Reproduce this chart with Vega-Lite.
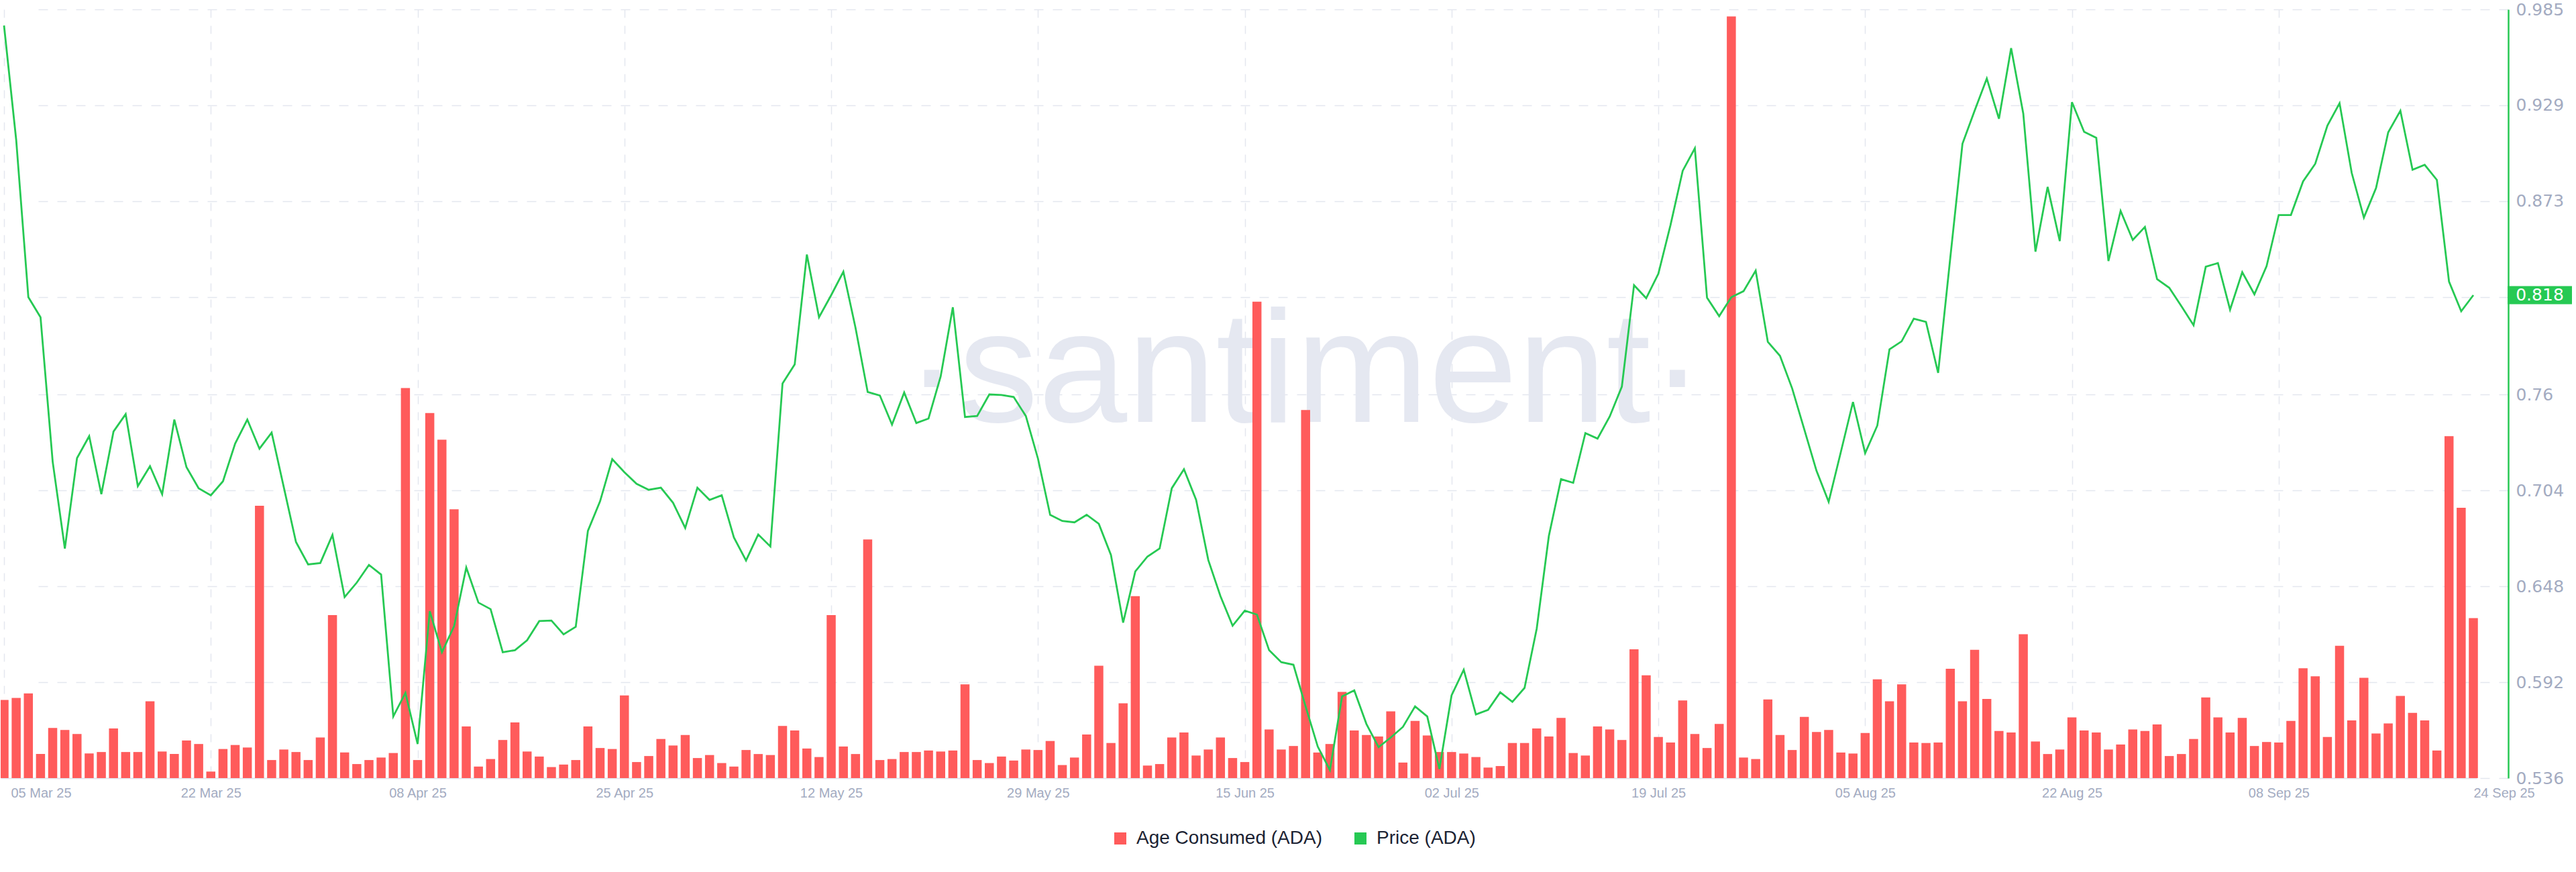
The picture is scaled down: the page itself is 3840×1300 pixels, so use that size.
{
 "$schema": "https://vega.github.io/schema/vega-lite/v6.json",
 "width": 3738,
 "height": 1146,
 "padding": {"left": 0, "top": 2, "right": 0, "bottom": 0},
 "background": "#ffffff",
 "config": {"view": {"stroke": null}, "font": "Liberation Sans"},
 "data": {"values": [
{"date":"2025-03-05","age_consumed":156,"price":0.9756},
{"date":"2025-03-06","age_consumed":160,"price":0.9088},
{"date":"2025-03-07","age_consumed":169,"price":0.8169},
{"date":"2025-03-08","age_consumed":48,"price":0.8052},
{"date":"2025-03-09","age_consumed":100,"price":0.7208},
{"date":"2025-03-10","age_consumed":96,"price":0.6701},
{"date":"2025-03-11","age_consumed":88,"price":0.7229},
{"date":"2025-03-12","age_consumed":49,"price":0.7357},
{"date":"2025-03-13","age_consumed":52,"price":0.7018},
{"date":"2025-03-14","age_consumed":99,"price":0.7384},
{"date":"2025-03-15","age_consumed":52,"price":0.7486},
{"date":"2025-03-16","age_consumed":52,"price":0.7065},
{"date":"2025-03-17","age_consumed":153,"price":0.7182},
{"date":"2025-03-18","age_consumed":53,"price":0.7018},
{"date":"2025-03-19","age_consumed":48,"price":0.7454},
{"date":"2025-03-20","age_consumed":75,"price":0.7176},
{"date":"2025-03-21","age_consumed":68,"price":0.7053},
{"date":"2025-03-22","age_consumed":13,"price":0.7012},
{"date":"2025-03-23","age_consumed":58,"price":0.7094},
{"date":"2025-03-24","age_consumed":66,"price":0.7314},
{"date":"2025-03-25","age_consumed":61,"price":0.7454},
{"date":"2025-03-26","age_consumed":543,"price":0.7284},
{"date":"2025-03-27","age_consumed":36,"price":0.7378},
{"date":"2025-03-28","age_consumed":57,"price":0.7059},
{"date":"2025-03-29","age_consumed":52,"price":0.6739},
{"date":"2025-03-30","age_consumed":36,"price":0.6608},
{"date":"2025-03-31","age_consumed":81,"price":0.6616},
{"date":"2025-04-01","age_consumed":325,"price":0.6780},
{"date":"2025-04-02","age_consumed":51,"price":0.6417},
{"date":"2025-04-03","age_consumed":28,"price":0.6502},
{"date":"2025-04-04","age_consumed":36,"price":0.6605},
{"date":"2025-04-05","age_consumed":41,"price":0.6549},
{"date":"2025-04-06","age_consumed":50,"price":0.5720},
{"date":"2025-04-07","age_consumed":778,"price":0.5858},
{"date":"2025-04-08","age_consumed":36,"price":0.5559},
{"date":"2025-04-09","age_consumed":728,"price":0.6335},
{"date":"2025-04-10","age_consumed":675,"price":0.6095},
{"date":"2025-04-11","age_consumed":536,"price":0.6247},
{"date":"2025-04-12","age_consumed":103,"price":0.6590},
{"date":"2025-04-13","age_consumed":23,"price":0.6385},
{"date":"2025-04-14","age_consumed":38,"price":0.6347},
{"date":"2025-04-15","age_consumed":76,"price":0.6095},
{"date":"2025-04-16","age_consumed":111,"price":0.6107},
{"date":"2025-04-17","age_consumed":53,"price":0.6165},
{"date":"2025-04-18","age_consumed":43,"price":0.6277},
{"date":"2025-04-19","age_consumed":22,"price":0.6280},
{"date":"2025-04-20","age_consumed":27,"price":0.6200},
{"date":"2025-04-21","age_consumed":36,"price":0.6244},
{"date":"2025-04-22","age_consumed":103,"price":0.6804},
{"date":"2025-04-23","age_consumed":60,"price":0.6977},
{"date":"2025-04-24","age_consumed":58,"price":0.7223},
{"date":"2025-04-25","age_consumed":165,"price":0.7147},
{"date":"2025-04-26","age_consumed":32,"price":0.7079},
{"date":"2025-04-27","age_consumed":44,"price":0.7044},
{"date":"2025-04-28","age_consumed":78,"price":0.7056},
{"date":"2025-04-29","age_consumed":65,"price":0.6968},
{"date":"2025-04-30","age_consumed":86,"price":0.6821},
{"date":"2025-05-01","age_consumed":40,"price":0.7056},
{"date":"2025-05-02","age_consumed":46,"price":0.6985},
{"date":"2025-05-03","age_consumed":30,"price":0.7012},
{"date":"2025-05-04","age_consumed":23,"price":0.6766},
{"date":"2025-05-05","age_consumed":56,"price":0.6631},
{"date":"2025-05-06","age_consumed":48,"price":0.6783},
{"date":"2025-05-07","age_consumed":46,"price":0.6713},
{"date":"2025-05-08","age_consumed":104,"price":0.7665},
{"date":"2025-05-09","age_consumed":95,"price":0.7776},
{"date":"2025-05-10","age_consumed":59,"price":0.8418},
{"date":"2025-05-11","age_consumed":42,"price":0.8052},
{"date":"2025-05-12","age_consumed":325,"price":0.8181},
{"date":"2025-05-13","age_consumed":63,"price":0.8318},
{"date":"2025-05-14","age_consumed":48,"price":0.7990},
{"date":"2025-05-15","age_consumed":476,"price":0.7615},
{"date":"2025-05-16","age_consumed":36,"price":0.7595},
{"date":"2025-05-17","age_consumed":38,"price":0.7425},
{"date":"2025-05-18","age_consumed":52,"price":0.7612},
{"date":"2025-05-19","age_consumed":52,"price":0.7434},
{"date":"2025-05-20","age_consumed":55,"price":0.7460},
{"date":"2025-05-21","age_consumed":53,"price":0.7706},
{"date":"2025-05-22","age_consumed":55,"price":0.8110},
{"date":"2025-05-23","age_consumed":187,"price":0.7469},
{"date":"2025-05-24","age_consumed":36,"price":0.7475},
{"date":"2025-05-25","age_consumed":30,"price":0.7601},
{"date":"2025-05-26","age_consumed":43,"price":0.7598},
{"date":"2025-05-27","age_consumed":35,"price":0.7586},
{"date":"2025-05-28","age_consumed":57,"price":0.7475},
{"date":"2025-05-29","age_consumed":56,"price":0.7226},
{"date":"2025-05-30","age_consumed":74,"price":0.6898},
{"date":"2025-05-31","age_consumed":26,"price":0.6862},
{"date":"2025-06-01","age_consumed":41,"price":0.6854},
{"date":"2025-06-02","age_consumed":87,"price":0.6898},
{"date":"2025-06-03","age_consumed":224,"price":0.6845},
{"date":"2025-06-04","age_consumed":70,"price":0.6663},
{"date":"2025-06-05","age_consumed":149,"price":0.6268},
{"date":"2025-06-06","age_consumed":363,"price":0.6567},
{"date":"2025-06-07","age_consumed":25,"price":0.6654},
{"date":"2025-06-08","age_consumed":28,"price":0.6701},
{"date":"2025-06-09","age_consumed":81,"price":0.7053},
{"date":"2025-06-10","age_consumed":91,"price":0.7164},
{"date":"2025-06-11","age_consumed":45,"price":0.6985},
{"date":"2025-06-12","age_consumed":57,"price":0.6634},
{"date":"2025-06-13","age_consumed":81,"price":0.6423},
{"date":"2025-06-14","age_consumed":40,"price":0.6250},
{"date":"2025-06-15","age_consumed":32,"price":0.6338},
{"date":"2025-06-16","age_consumed":950,"price":0.6315},
{"date":"2025-06-17","age_consumed":97,"price":0.6107},
{"date":"2025-06-18","age_consumed":57,"price":0.6037},
{"date":"2025-06-19","age_consumed":64,"price":0.6022},
{"date":"2025-06-20","age_consumed":734,"price":0.5779},
{"date":"2025-06-21","age_consumed":51,"price":0.5544},
{"date":"2025-06-22","age_consumed":68,"price":0.5407},
{"date":"2025-06-23","age_consumed":172,"price":0.5837},
{"date":"2025-06-24","age_consumed":95,"price":0.5872},
{"date":"2025-06-25","age_consumed":86,"price":0.5676},
{"date":"2025-06-26","age_consumed":83,"price":0.5541},
{"date":"2025-06-27","age_consumed":133,"price":0.5597},
{"date":"2025-06-28","age_consumed":31,"price":0.5659},
{"date":"2025-06-29","age_consumed":114,"price":0.5779},
{"date":"2025-06-30","age_consumed":85,"price":0.5720},
{"date":"2025-07-01","age_consumed":52,"price":0.5413},
{"date":"2025-07-02","age_consumed":52,"price":0.5843},
{"date":"2025-07-03","age_consumed":49,"price":0.5993},
{"date":"2025-07-04","age_consumed":42,"price":0.5732},
{"date":"2025-07-05","age_consumed":21,"price":0.5758},
{"date":"2025-07-06","age_consumed":24,"price":0.5861},
{"date":"2025-07-07","age_consumed":70,"price":0.5805},
{"date":"2025-07-08","age_consumed":70,"price":0.5887},
{"date":"2025-07-09","age_consumed":99,"price":0.6233},
{"date":"2025-07-10","age_consumed":83,"price":0.6775},
{"date":"2025-07-11","age_consumed":120,"price":0.7106},
{"date":"2025-07-12","age_consumed":50,"price":0.7085},
{"date":"2025-07-13","age_consumed":45,"price":0.7375},
{"date":"2025-07-14","age_consumed":103,"price":0.7343},
{"date":"2025-07-15","age_consumed":97,"price":0.7472},
{"date":"2025-07-16","age_consumed":76,"price":0.7647},
{"date":"2025-07-17","age_consumed":257,"price":0.8239},
{"date":"2025-07-18","age_consumed":205,"price":0.8163},
{"date":"2025-07-19","age_consumed":82,"price":0.8306},
{"date":"2025-07-20","age_consumed":71,"price":0.8591},
{"date":"2025-07-21","age_consumed":155,"price":0.8907},
{"date":"2025-07-22","age_consumed":88,"price":0.9039},
{"date":"2025-07-23","age_consumed":60,"price":0.8166},
{"date":"2025-07-24","age_consumed":108,"price":0.8058},
{"date":"2025-07-25","age_consumed":1519,"price":0.8169},
{"date":"2025-07-26","age_consumed":41,"price":0.8204},
{"date":"2025-07-27","age_consumed":38,"price":0.8324},
{"date":"2025-07-28","age_consumed":157,"price":0.7908},
{"date":"2025-07-29","age_consumed":86,"price":0.7826},
{"date":"2025-07-30","age_consumed":56,"price":0.7636},
{"date":"2025-07-31","age_consumed":122,"price":0.7396},
{"date":"2025-08-01","age_consumed":92,"price":0.7155},
{"date":"2025-08-02","age_consumed":96,"price":0.6974},
{"date":"2025-08-03","age_consumed":51,"price":0.7264},
{"date":"2025-08-04","age_consumed":49,"price":0.7557},
{"date":"2025-08-05","age_consumed":90,"price":0.7258},
{"date":"2025-08-06","age_consumed":197,"price":0.7419},
{"date":"2025-08-07","age_consumed":153,"price":0.7864},
{"date":"2025-08-08","age_consumed":187,"price":0.7911},
{"date":"2025-08-09","age_consumed":71,"price":0.8043},
{"date":"2025-08-10","age_consumed":70,"price":0.8025},
{"date":"2025-08-11","age_consumed":71,"price":0.7727},
{"date":"2025-08-12","age_consumed":218,"price":0.8400},
{"date":"2025-08-13","age_consumed":153,"price":0.9065},
{"date":"2025-08-14","age_consumed":256,"price":0.9258},
{"date":"2025-08-15","age_consumed":158,"price":0.9446},
{"date":"2025-08-16","age_consumed":94,"price":0.9211},
{"date":"2025-08-17","age_consumed":91,"price":0.9624},
{"date":"2025-08-18","age_consumed":287,"price":0.9241},
{"date":"2025-08-19","age_consumed":73,"price":0.8435},
{"date":"2025-08-20","age_consumed":48,"price":0.8813},
{"date":"2025-08-21","age_consumed":57,"price":0.8497},
{"date":"2025-08-22","age_consumed":121,"price":0.9308},
{"date":"2025-08-23","age_consumed":95,"price":0.9135},
{"date":"2025-08-24","age_consumed":91,"price":0.9100},
{"date":"2025-08-25","age_consumed":57,"price":0.8380},
{"date":"2025-08-26","age_consumed":67,"price":0.8673},
{"date":"2025-08-27","age_consumed":97,"price":0.8503},
{"date":"2025-08-28","age_consumed":94,"price":0.8579},
{"date":"2025-08-29","age_consumed":107,"price":0.8274},
{"date":"2025-08-30","age_consumed":44,"price":0.8224},
{"date":"2025-08-31","age_consumed":48,"price":0.8116},
{"date":"2025-09-01","age_consumed":78,"price":0.8005},
{"date":"2025-09-02","age_consumed":161,"price":0.8347},
{"date":"2025-09-03","age_consumed":121,"price":0.8368},
{"date":"2025-09-04","age_consumed":91,"price":0.8096},
{"date":"2025-09-05","age_consumed":120,"price":0.8315},
{"date":"2025-09-06","age_consumed":64,"price":0.8186},
{"date":"2025-09-07","age_consumed":72,"price":0.8350},
{"date":"2025-09-08","age_consumed":71,"price":0.8649},
{"date":"2025-09-09","age_consumed":114,"price":0.8649},
{"date":"2025-09-10","age_consumed":219,"price":0.8845},
{"date":"2025-09-11","age_consumed":203,"price":0.8948},
{"date":"2025-09-12","age_consumed":82,"price":0.9171},
{"date":"2025-09-13","age_consumed":264,"price":0.9302},
{"date":"2025-09-14","age_consumed":115,"price":0.8895},
{"date":"2025-09-15","age_consumed":200,"price":0.8634},
{"date":"2025-09-16","age_consumed":89,"price":0.8807},
{"date":"2025-09-17","age_consumed":109,"price":0.9132},
{"date":"2025-09-18","age_consumed":164,"price":0.9258},
{"date":"2025-09-19","age_consumed":130,"price":0.8913},
{"date":"2025-09-20","age_consumed":115,"price":0.8942},
{"date":"2025-09-21","age_consumed":55,"price":0.8854},
{"date":"2025-09-22","age_consumed":682,"price":0.8260},
{"date":"2025-09-23","age_consumed":539,"price":0.8087},
{"date":"2025-09-24","age_consumed":319,"price":0.8181}
 ]},
 "layer": [
  {
   "data": {"values": [{}]},
   "mark": {"type": "text", "text": "·santiment·", "x": {"expr": "width*0.52"}, "y": {"expr": "height*0.537"}, "align": "center", "baseline": "alphabetic", "font": "Liberation Sans", "fontSize": 238, "color": "#e5e8f1"}
  },
  {
   "mark": {"type": "bar", "width": 13.5, "clip": true},
   "encoding": {
    "x": {"field": "date", "type": "temporal",
     "scale": {"type": "utc", "domain": [1741132800000, 1758672000000], "range": [0, 3691]},
     "axis": {
      "title": null,
      "values": [1741132800000, 1742601600000, 1744070400000, 1745539200000, 1747008000000, 1748476800000, 1749945600000, 1751414400000, 1752883200000, 1754352000000, 1755820800000, 1757289600000, 1758672000000],
      "format": "%d %b %y",
      "labelFont": "Liberation Sans", "labelFontSize": 20, "labelColor": "#a3abc1", "labelPadding": 12,
      "ticks": false, "tickSize": 0,
      "domainColor": "#e3e6ee", "domainWidth": 2,
      "grid": true, "gridColor": "#e4e7ef", "gridDash": [12, 12], "gridWidth": 1.5,
      "gridOpacity": {"condition": {"test": "datum.value >= 1758672000000", "value": 0}, "value": 1},
      "labelAlign": {"condition": {"test": "datum.value <= 1741132800000 || datum.value >= 1758672000000", "value": "left"}, "value": "center"},
      "labelOffset": {"condition": {"test": "datum.value <= 1741132800000", "value": 10}, "value": 0},
      "labelFlush": false, "labelOverlap": false
     }
    },
    "y": {"field": "age_consumed", "type": "quantitative", "scale": {"domain": [0, 1533], "nice": false}, "axis": null},
    "color": {"datum": "Age Consumed (ADA)",
     "scale": {"domain": ["Age Consumed (ADA)", "Price (ADA)"], "range": ["#ff5b5b", "#26c953"]},
     "legend": {"orient": "none", "legendX": 1655, "legendY": 1222, "direction": "horizontal", "title": null,
      "symbolType": "square", "symbolSize": 324, "symbolStrokeWidth": 0, "symbolOpacity": 1,
      "labelFont": "Liberation Sans", "labelFontSize": 28, "labelColor": "#1b2232", "labelOffset": 10, "labelLimit": 0,
      "columnPadding": 42, "padding": 0,
      "encode": {"symbols": {"update": {"fill": {"scale": "color", "field": "value"}, "strokeWidth": {"value": 0}}}}
     }
    }
   }
  },
  {
   "layer": [
    {
     "mark": {"type": "line", "strokeWidth": 2.8},
     "encoding": {
      "x": {"field": "date", "type": "temporal",
       "scale": {"type": "utc", "domain": [1741132800000, 1758672000000], "range": [0, 3691]},
       "axis": {
        "title": null,
        "values": [1741132800000, 1742601600000, 1744070400000, 1745539200000, 1747008000000, 1748476800000, 1749945600000, 1751414400000, 1752883200000, 1754352000000, 1755820800000, 1757289600000, 1758672000000],
        "format": "%d %b %y",
        "labelFont": "Liberation Sans", "labelFontSize": 20, "labelColor": "#a3abc1", "labelPadding": 12,
        "ticks": false, "tickSize": 0,
        "domainColor": "#e3e6ee", "domainWidth": 2,
        "grid": true, "gridColor": "#e4e7ef", "gridDash": [12, 12], "gridWidth": 1.5,
        "gridOpacity": {"condition": {"test": "datum.value >= 1758672000000", "value": 0}, "value": 1},
        "labelAlign": {"condition": {"test": "datum.value <= 1741132800000 || datum.value >= 1758672000000", "value": "left"}, "value": "center"},
        "labelOffset": {"condition": {"test": "datum.value <= 1741132800000", "value": 10}, "value": 0},
        "labelFlush": false, "labelOverlap": false
       }
      },
      "y": {"field": "price", "type": "quantitative",
       "scale": {"domain": [0.536, 0.985], "zero": false, "nice": false},
       "axis": {"orient": "right", "title": null,
        "values": [0.536, 0.592, 0.648, 0.704, 0.76, 0.817, 0.873, 0.929, 0.985],
        "format": ".3~f",
        "labelExpr": "datum.value == 0.817 ? '' : datum.label",
        "labelFont": "DejaVu Sans", "labelFontSize": 25, "labelColor": "#a3abc1", "labelPadding": 11,
        "labelAlign": "left", "labelBaseline": "middle",
        "ticks": false, "tickSize": 0,
        "domainColor": "#26c953", "domainWidth": 2.5,
        "grid": true, "gridColor": "#e4e7ef", "gridDash": [14, 14], "gridWidth": 1.5}
      },
      "color": {"datum": "Price (ADA)"}
     }
    },
    {
     "transform": [{"filter": "time(datum.date) >= 1758672000000"}],
     "mark": {"type": "point", "shape": "M5.1,-1.35H14.7V1.35H5.1Z", "size": 400, "filled": true, "color": "#26c953", "opacity": 1, "strokeWidth": 0},
     "encoding": {
      "x": {"field": "date", "type": "temporal"},
      "y": {"field": "price", "type": "quantitative"}
     }
    },
    {
     "transform": [{"filter": "time(datum.date) >= 1758672000000"}],
     "mark": {"type": "text", "dx": 99, "align": "center", "baseline": "middle", "font": "DejaVu Sans", "fontSize": 25, "color": "#ffffff"},
     "encoding": {
      "x": {"field": "date", "type": "temporal"},
      "y": {"field": "price", "type": "quantitative"},
      "text": {"field": "price", "type": "quantitative", "format": ".3f"}
     }
    }
   ]
  }
 ],
 "resolve": {"scale": {"y": "independent"}}
}
